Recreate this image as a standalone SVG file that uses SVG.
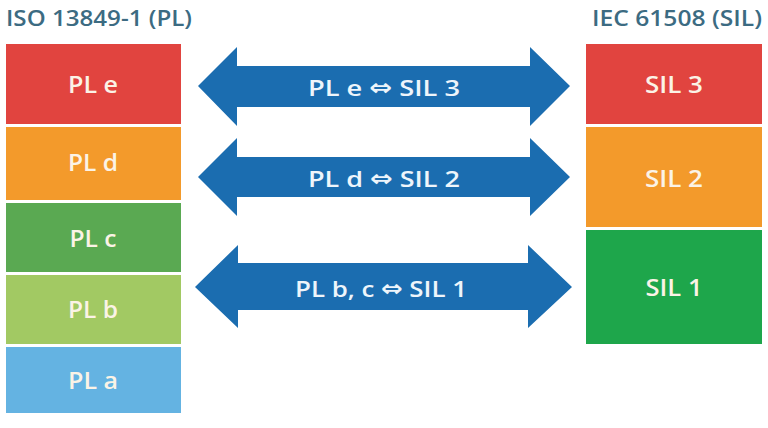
<svg xmlns="http://www.w3.org/2000/svg" width="768" height="428" viewBox="0 0 768 428">
<style>
.t{font-family:"Open Sans","Noto Sans","Liberation Sans",sans-serif;font-weight:600;}
.h{font-size:22px;fill:#3c6b82;}
.b{font-size:23px;fill:#fbf3e6;text-anchor:middle;dominant-baseline:central;}
.a{fill:#1b6db0;}
.at{font-size:22px;fill:#eef5fb;text-anchor:middle;dominant-baseline:central;}
.s{font-family:"DejaVu Sans",sans-serif;font-weight:bold;}
</style>
<rect width="768" height="428" fill="#ffffff"/>
<text class="t h" x="6" y="26" textLength="186" lengthAdjust="spacingAndGlyphs">ISO 13849-1 (PL)</text>
<text class="t h" x="592" y="26" textLength="170" lengthAdjust="spacingAndGlyphs">IEC 61508 (SIL)</text>
<g id="pl-e"><rect x="6" y="44" width="175" height="80" fill="#e1443f"/><text class="t b" x="93" y="84" textLength="50" lengthAdjust="spacingAndGlyphs">PL e</text></g>
<g id="pl-d"><rect x="6" y="127" width="175" height="73" fill="#f39a2b"/><text class="t b" x="93" y="162" textLength="50" lengthAdjust="spacingAndGlyphs">PL d</text></g>
<g id="pl-c"><rect x="6" y="203" width="175" height="69" fill="#5aa952"/><text class="t b" x="93" y="238" textLength="47" lengthAdjust="spacingAndGlyphs">PL c</text></g>
<g id="pl-b"><rect x="6" y="275" width="175" height="69" fill="#a2c963"/><text class="t b" x="93" y="309" textLength="50" lengthAdjust="spacingAndGlyphs">PL b</text></g>
<g id="pl-a"><rect x="6" y="347" width="175" height="66" fill="#64b3e2"/><text class="t b" x="93" y="380" textLength="50" lengthAdjust="spacingAndGlyphs">PL a</text></g>
<g id="sil-3"><rect x="586" y="44" width="176" height="80" fill="#e1443f"/><text class="t b" x="674" y="84" textLength="58" lengthAdjust="spacingAndGlyphs">SIL 3</text></g>
<g id="sil-2"><rect x="586" y="127" width="176" height="100" fill="#f39a2b"/><text class="t b" x="674" y="178" textLength="58" lengthAdjust="spacingAndGlyphs">SIL 2</text></g>
<g id="sil-1"><rect x="586" y="230" width="176" height="114" fill="#1ea64b"/><text class="t b" x="674" y="287" textLength="57" lengthAdjust="spacingAndGlyphs">SIL 1</text></g>
<g id="connectors">
<g id="arrow-1"><path class="a" d="M198 86 L237 47 L237 66 L530 66 L530 47 L570 86 L530 126 L530 107 L237 107 L237 126 Z"/><text class="t at" x="384" y="87" textLength="152" lengthAdjust="spacingAndGlyphs">PL e <tspan class="s">⇔</tspan> SIL 3</text></g>
<g id="arrow-2"><path class="a" d="M198 177 L237 138 L237 157 L530 157 L530 138 L570 177 L530 216 L530 197 L237 197 L237 216 Z"/><text class="t at" x="384" y="178" textLength="152" lengthAdjust="spacingAndGlyphs">PL d <tspan class="s">⇔</tspan> SIL 2</text></g>
<g id="arrow-3"><path class="a" d="M195 287 L238 245 L238 263 L528 263 L528 245 L572 287 L528 328 L528 310 L238 310 L238 328 Z"/><text class="t at" x="381" y="288" textLength="172" lengthAdjust="spacingAndGlyphs">PL b, c <tspan class="s">⇔</tspan> SIL 1</text></g>
</g>
</svg>
